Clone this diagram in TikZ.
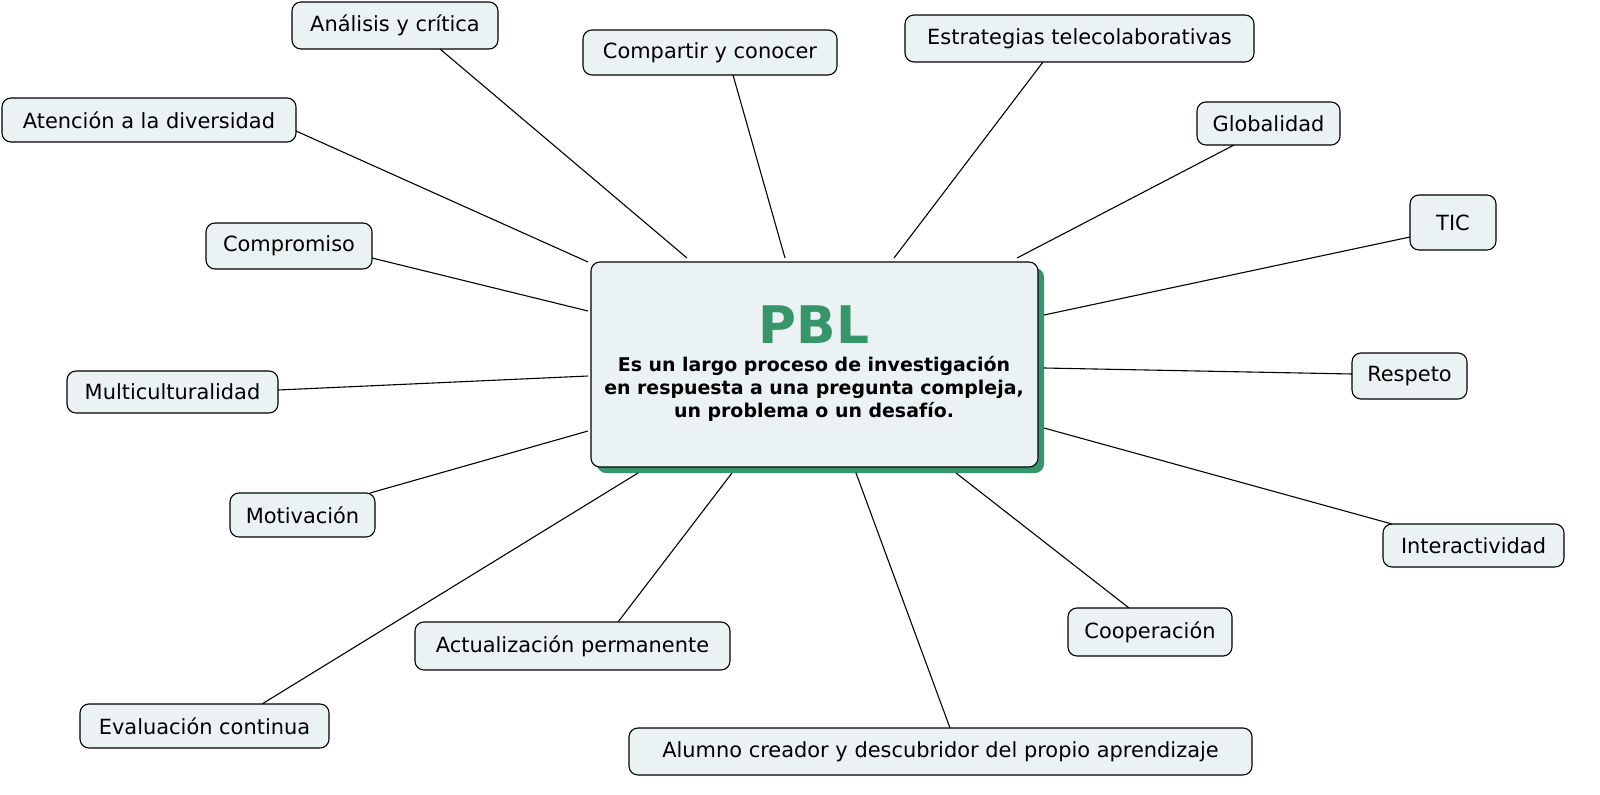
\documentclass[tikz,border=0pt]{standalone}
\usepackage{fontspec}
\setmainfont{DejaVu Sans}
\definecolor{boxfill}{HTML}{EAF2F3}
\definecolor{pblgreen}{HTML}{36966A}
\newcommand{\bx}[6]{\node[leaf,minimum width=#4bp-#2bp,minimum height=#5bp-#3bp] (#1) at ({(#2+#4)/2},{(#3+#5)/2}) {#6};}
\begin{document}
\begin{tikzpicture}[x=1bp,y=-1bp,
  leaf/.style={draw,rounded corners=9pt,fill=boxfill,inner sep=0pt,line width=1.1pt,font=\fontsize{21}{24}\selectfont},
  conn/.style={draw,line width=1.1pt}]
\fill[pblgreen,rounded corners=9pt] (597,268) rectangle (1044,473);
\node[draw,rounded corners=9pt,fill=boxfill,minimum width=447bp,minimum height=205bp,inner sep=0pt,line width=1.1pt] (c) at (814.5,364.5) {};
\node[text=pblgreen,font=\bfseries\fontsize{52}{58}\selectfont] (pbl) at (814,325) {PBL};
\node[align=center,font=\bfseries\fontsize{19}{23}\selectfont] (desc) at (814,389) {Es un largo proceso de investigación\\en respuesta a una pregunta compleja,\\un problema o un desafío.};
\bx{ana}{292}{2}{498}{49}{Análisis y crítica}
\bx{com}{583}{30}{837}{75}{Compartir y conocer}
\bx{est}{905}{15}{1254}{62}{Estrategias telecolaborativas}
\bx{ate}{2}{98}{296}{142}{Atención a la diversidad}
\bx{glo}{1197}{102}{1340}{145}{Globalidad}
\bx{cmp}{206}{223}{372}{269}{Compromiso}
\bx{tic}{1410}{195}{1496}{250}{TIC}
\bx{mul}{67}{371}{278}{413}{Multiculturalidad}
\bx{res}{1352}{353}{1467}{399}{Respeto}
\bx{mot}{230}{493}{375}{537}{Motivación}
\bx{int}{1383}{524}{1564}{567}{Interactividad}
\bx{coo}{1068}{608}{1232}{656}{Cooperación}
\bx{act}{415}{622}{730}{670}{Actualización permanente}
\bx{eva}{80}{704}{329}{748}{Evaluación continua}
\bx{alu}{629}{728}{1252}{775}{Alumno creador y descubridor del propio aprendizaje}
\foreach \n/\x/\y in {p1/687/258,p2/785/258,p3/894/258,p4/588/262,p5/1017/258,p6/588/311,p7/1044/315,p8/588/376,p9/1044/368,p10/588/431,p11/1044/428,p12/956/473,p13/732/473,p14/638/473,p15/856/473}
  \coordinate (\n) at (\x,\y);
\foreach \n/\x/\y in {q1/440/49,q2/733/75,q3/1043/62,q4/296/131,q5/1234/145,q6/372/258,q7/1410/237,q8/278/390,q9/1352/374,q10/370/493,q11/1392/524,q12/1129/608,q13/618/622,q14/262/704,q15/950/728}
  \coordinate (\n) at (\x,\y);
\foreach \i in {1,...,15} \draw[conn] (q\i) -- (p\i);
\pgfresetboundingbox
\useasboundingbox (0,0) rectangle (1600,795);
\end{tikzpicture}
\end{document}
